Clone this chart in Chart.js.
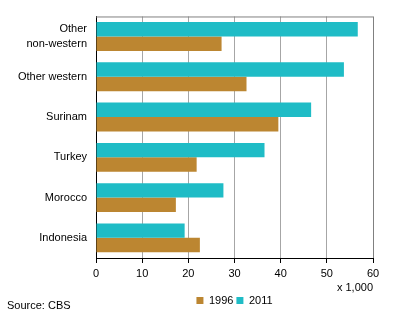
<!DOCTYPE html>
<html>
<head>
<meta charset="utf-8">
<script src="https://cdn.jsdelivr.net/npm/chart.js@4"></script>
<style>
    html, body { margin: 0; padding: 0; background: #fff; }
    #wrap { position: relative; width: 396px; height: 321px; }
</style>
</head>
<body>
<div id="wrap"><canvas id="chart1" width="396" height="321"></canvas></div>
<script>
//--------------------------------------DATOS
var categorias = [["Other", "non-western"], "Other western", "Surinam", "Turkey", "Morocco", "Indonesia"];
var valores1996 = [27.2, 32.6, 39.5, 21.8, 17.3, 22.5];
var valores2011 = [56.7, 53.7, 46.6, 36.5, 27.6, 19.2];
var colorCyan = "rgb(31,188,198)";
var colorCafe = "rgb(188,134,49)";
var fuente = "'Liberation Sans', Arial, sans-serif";

//--------------------------------------MARCO Y FUENTE
var marcoPlugin = {
    id: 'marco',
    afterDraw: function (chart) {
        var ctx = chart.ctx;
        var a = chart.chartArea;
        ctx.save();
        ctx.strokeStyle = '#808080';
        ctx.lineWidth = 1;
        ctx.beginPath();
        ctx.moveTo(a.left, a.top + 0.5);
        ctx.lineTo(a.right + 0.5, a.top + 0.5);
        ctx.lineTo(a.right + 0.5, a.bottom);
        ctx.stroke();
        ctx.fillStyle = '#000';
        ctx.font = "11px " + fuente;
        ctx.textBaseline = 'middle';
        ctx.textAlign = 'left';
        ctx.fillText("Source: CBS", 7, 306);
        ctx.restore();
    }
};

function grafica() {
    var popCanvas = document.getElementById("chart1");
    var barChart = new Chart(popCanvas, {
        type: 'bar',
        data: {
            labels: categorias,
            datasets: [{
                label: '2011',
                data: valores2011,
                backgroundColor: colorCyan,
                borderWidth: 0
            }, {
                label: '1996',
                data: valores1996,
                backgroundColor: colorCafe,
                borderWidth: 0
            }]
        },
        options: {
            indexAxis: 'y',
            responsive: false,
            animation: false,
            categoryPercentage: 0.72,
            barPercentage: 1,
            layout: {
                padding: {left: 0, right: 23, top: 15, bottom: 5}
            },
            scales: {
                x: {
                    min: 0,
                    max: 60,
                    ticks: {
                        stepSize: 10,
                        color: '#000',
                        padding: 4,
                        font: {family: fuente, size: 11}
                    },
                    grid: {
                        color: '#a6a6a6',
                        tickColor: '#000',
                        tickLength: 5
                    },
                    border: {color: '#000'},
                    title: {
                        display: true,
                        text: 'x 1,000',
                        align: 'end',
                        color: '#000',
                        padding: {top: 1, bottom: -3},
                        font: {family: fuente, size: 11}
                    },
                    afterFit: function (scale) {
                        scale.height = 34;
                    }
                },
                y: {
                    ticks: {
                        color: '#000',
                        padding: 9,
                        font: {family: fuente, size: 11, lineHeight: 1.36}
                    },
                    grid: {display: false, drawTicks: false},
                    border: {color: '#000'},
                    afterFit: function (scale) {
                        scale.width = 96;
                    }
                }
            },
            plugins: {
                legend: {
                    position: 'bottom',
                    fullSize: false,
                    reverse: true,
                    labels: {
                        boxWidth: 7,
                        boxHeight: 7,
                        padding: 3,
                        color: '#000',
                        font: {family: fuente, size: 11}
                    }
                },
                tooltip: {enabled: false}
            }
        },
        plugins: [marcoPlugin]
    });
}

grafica();
</script>
</body>
</html>
